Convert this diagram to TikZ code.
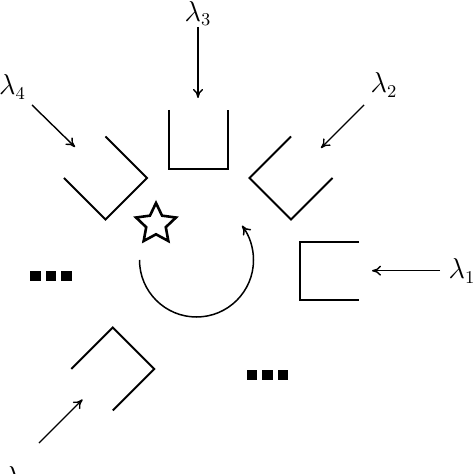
\documentclass[tikz,border=0pt]{standalone}
\usetikzlibrary{arrows.meta}
\begin{document}
\begin{tikzpicture}[x=0.5pt,y=-0.5pt,
  bracket/.style={line width=1pt,line join=miter},
  inarrow/.style={line width=0.7pt,-{Computer Modern Rightarrow[length=4.5pt,width=5pt]}},
  rotarrow/.style={line width=0.75pt,-{Computer Modern Rightarrow[length=4.5pt,width=5pt]}},
  lab/.style={inner sep=0pt,font=\fontsize{13.5}{16}\selectfont},
  dot/.style={fill=black},
  starline/.style={line width=1.3pt,line join=miter}]
\useasboundingbox (0,0) rectangle (474,474);
% cavities (brackets)
\draw[bracket] (169,110) -- (169,169) -- (228,169) -- (228,110);
\draw[bracket] (359,242) -- (300,242) -- (300,300) -- (359,300);
\draw[bracket] (291,136.5) -- (249.5,178) -- (291,219.5) -- (332.5,178);
\draw[bracket] (105.5,136.5) -- (147,178) -- (105.5,219.5) -- (64,178);
\draw[bracket] (71.3,369) -- (112.8,327.5) -- (154.3,369) -- (112.8,410.5);
% labels
\node[lab] (l3) at (198,13.5) {$\lambda_3$};
\node[lab] (l2) at (384,85) {$\lambda_2$};
\node[lab] (l4) at (12.5,87) {$\lambda_4$};
\node[lab] (l1) at (462,271) {$\lambda_1$};
\node[lab] (ln) at (19,479) {$\lambda_n$};
% arrow ends
\coordinate (s3) at (198,27);  \coordinate (t3) at (198,98);
\coordinate (s2) at (364,105); \coordinate (t2) at (321,148);
\coordinate (s4) at (32,105);  \coordinate (t4) at (75,147);
\coordinate (s1) at (440,270.7); \coordinate (t1) at (372,270.7);
\coordinate (sn) at (39,443);  \coordinate (tn) at (82.5,399.5);
\draw[inarrow] (s3) -- (t3);
\draw[inarrow] (s2) -- (t2);
\draw[inarrow] (s4) -- (t4);
\draw[inarrow] (s1) -- (t1);
\draw[inarrow] (sn) -- (tn);
% rotation arrow
\coordinate (c) at (196.5,260);
\draw[rotarrow] (c) ++(180:28.5pt) arc[start angle=180,end angle=397,radius=28.5pt];
% star
\draw[starline,shift={(156,224)}] (-90:21) -- (-54:10.3) -- (-18:21) -- (18:10.3) -- (54:21)
  -- (90:10.3) -- (126:21) -- (162:10.3) -- (198:21) -- (234:10.3) -- cycle;
% dots
\foreach \x in {30,45.5,61} \fill[dot] (\x,271) rectangle ++(10.5,10);
\foreach \x in {246.5,262,277.5} \fill[dot] (\x,369.7) rectangle ++(10.5,10);
\end{tikzpicture}
\end{document}
